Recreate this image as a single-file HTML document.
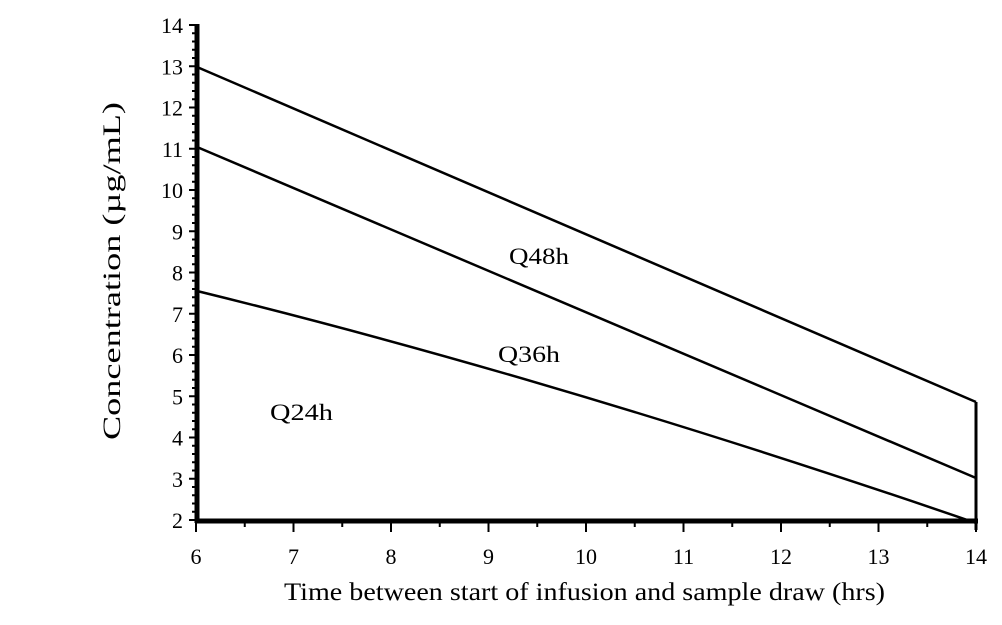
<!DOCTYPE html>
<html><head><style>body{margin:0;background:#fff}</style></head><body>
<svg width="1002" height="620" xmlns="http://www.w3.org/2000/svg" font-family="Liberation Serif, serif" fill="#000">
<g stroke="#000" stroke-width="2.5">
<line x1="197" y1="24" x2="197" y2="523" stroke-width="5"/>
<line x1="195" y1="521" x2="978" y2="521" stroke-width="5"/>
<line x1="976" y1="402" x2="976" y2="530" stroke-width="3"/>
<polyline fill="none" points="197,67 976,402"/>
<polyline fill="none" points="197,147 976,478"/>
<path fill="none" d="M197,291 Q560,380 976,523"/>
</g>
<g stroke="#000" stroke-width="2" id="t"></g>
<g font-size="22" text-anchor="end" id="yl"></g>
<g font-size="22" text-anchor="middle" id="xl"></g>
<text x="509" y="264" font-size="23" textLength="60" lengthAdjust="spacingAndGlyphs">Q48h</text>
<text x="498" y="362" font-size="23" textLength="62" lengthAdjust="spacingAndGlyphs">Q36h</text>
<text x="270" y="420" font-size="23" textLength="63" lengthAdjust="spacingAndGlyphs">Q24h</text>
<text x="284" y="600" font-size="25" textLength="601" lengthAdjust="spacingAndGlyphs">Time between start of infusion and sample draw (hrs)</text>
<text transform="translate(120,440) rotate(-90)" font-size="25" textLength="338" lengthAdjust="spacingAndGlyphs">Concentration (µg/mL)</text>
<script>
var ns="http://www.w3.org/2000/svg",t=document.getElementById('t'),yl=document.getElementById('yl'),xl=document.getElementById('xl');
function L(a,b,c,d){var l=document.createElementNS(ns,'line');l.setAttribute('x1',a);l.setAttribute('y1',b);l.setAttribute('x2',c);l.setAttribute('y2',d);t.appendChild(l);}
function T(g,x,y,s){var e=document.createElementNS(ns,'text');e.setAttribute('x',x);e.setAttribute('y',y);e.textContent=s;g.appendChild(e);}
for(var v=2;v<=14;v+=0.2){var y=520-(v-2)*41.25;var maj=Math.abs(v-Math.round(v))<0.01;L(maj?189:192,y,197,y);}
for(var v=2;v<=14;v++){T(yl,183,520-(v-2)*41.25+8,v);}
for(var v=6;v<=14;v+=0.5){var x=196+(v-6)*97.5;var maj=Math.abs(v-Math.round(v))<0.01;L(x,521,x,maj?532:527);}
for(var v=6;v<=14;v++){T(xl,196+(v-6)*97.5,564,v);}
</script>
</svg>
</body></html>
